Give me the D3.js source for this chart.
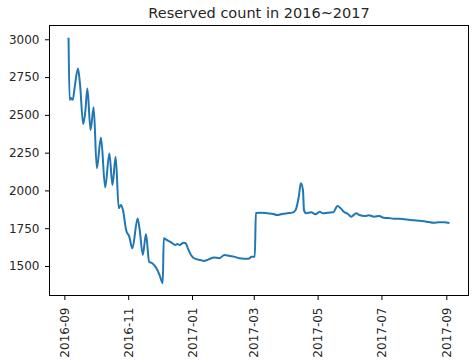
<!DOCTYPE html>
<html>
<head>
<meta charset="utf-8">
<script src="https://cdn.jsdelivr.net/npm/d3@7"></script>
<style>
  body { margin: 0; background: #fff; }
  svg { display: block; font-family: "DejaVu Sans", sans-serif; }
</style>
</head>
<body>
<div id="chart"></div>
<script>
  var title = 'Reserved count in 2016~2017';

  var dates = [
    '2016-09-05', '2016-09-06', '2016-09-07', '2016-09-09', '2016-09-11', '2016-09-14',
    '2016-09-16', '2016-09-19', '2016-09-21', '2016-09-23', '2016-09-26', '2016-09-29',
    '2016-10-02', '2016-10-06', '2016-10-10', '2016-10-14', '2016-10-17', '2016-10-20',
    '2016-10-23', '2016-10-25', '2016-10-27', '2016-10-30',
    '2016-11-02', '2016-11-05', '2016-11-10', '2016-11-12', '2016-11-15', '2016-11-18',
    '2016-11-21', '2016-11-24', '2016-11-28',
    '2016-12-01', '2016-12-04', '2016-12-05', '2016-12-08', '2016-12-11', '2016-12-16',
    '2016-12-18', '2016-12-20', '2016-12-24', '2016-12-26', '2016-12-28', '2016-12-31',
    '2017-01-03', '2017-01-06', '2017-01-09', '2017-01-12', '2017-01-17', '2017-01-22', '2017-01-27',
    '2017-02-01', '2017-02-06', '2017-02-10', '2017-02-15', '2017-02-20', '2017-02-24', '2017-02-27',
    '2017-03-02', '2017-03-03', '2017-03-07', '2017-03-14', '2017-03-20', '2017-03-23', '2017-03-28',
    '2017-04-02', '2017-04-07', '2017-04-10', '2017-04-13', '2017-04-15', '2017-04-17',
    '2017-04-18', '2017-04-20', '2017-04-25', '2017-04-29',
    '2017-05-03', '2017-05-06', '2017-05-11', '2017-05-16', '2017-05-20', '2017-05-23',
    '2017-05-26', '2017-05-30',
    '2017-06-02', '2017-06-07', '2017-06-10', '2017-06-15', '2017-06-19', '2017-06-24', '2017-06-29',
    '2017-07-03', '2017-07-08', '2017-07-13', '2017-07-18', '2017-07-23', '2017-07-27',
    '2017-08-01', '2017-08-06', '2017-08-11', '2017-08-15', '2017-08-20', '2017-08-25', '2017-08-30',
    '2017-09-04'
  ];

  var counts = [
    3010, 2598, 2612, 2600, 2690, 2807,
    2700, 2439, 2520, 2675, 2400, 2550,
    2146, 2350, 2020, 2245, 2036, 2223,
    1882, 1903, 1870, 1738,
    1694, 1617, 1815, 1738, 1573, 1712,
    1528, 1518, 1485,
    1440, 1386, 1683, 1672, 1661, 1639,
    1646, 1639, 1654, 1650, 1617, 1573,
    1551, 1544, 1540, 1533, 1544, 1557, 1551,
    1573, 1566, 1562, 1551, 1548, 1548, 1562,
    1562, 1850, 1853, 1849, 1844, 1837, 1844,
    1849, 1853, 1870, 1958, 2047, 2003,
    1870, 1849, 1855, 1842,
    1859, 1849, 1853, 1855, 1897, 1882,
    1859, 1844,
    1826, 1849, 1837, 1831, 1835, 1826, 1831,
    1819, 1817, 1813, 1813, 1809, 1806,
    1802, 1800, 1796, 1791, 1786, 1789, 1789,
    1784
  ];

  var xTickLabels = ['2016-09', '2016-11', '2017-01', '2017-03', '2017-05', '2017-07', '2017-09'];
  var yTickValues = [1500, 1750, 2000, 2250, 2500, 2750, 3000];

  var width = 474, height = 364;
  var margin = {top: 25.5, right: 5.5, bottom: 68.5, left: 49.5};
  var innerW = width - margin.left - margin.right,
    innerH = height - margin.top - margin.bottom;

  var parseDay = d3.timeParse('%Y-%m-%d'),
    parseMonth = d3.timeParse('%Y-%m');

  var data = dates.map(function(d, i) {
    return {date: parseDay(d), value: counts[i]};
  });

  // matplotlib style 5% padding on both axes
  function pad(ext) {
    var p = (ext[1] - ext[0]) * 0.05;
    return [ext[0] - p, ext[1] + p];
  }
  var xExt = pad(d3.extent(data, function(d) { return +d.date; }));
  var yExt = pad(d3.extent(data, function(d) { return d.value; }));

  var x = d3.scaleTime()
    .domain([new Date(xExt[0]), new Date(xExt[1])])
    .range([0, innerW]);
  var y = d3.scaleLinear()
    .domain(yExt)
    .range([innerH, 0]);

  var svg = d3.select('#chart')
    .append('svg')
    .attr('width', width)
    .attr('height', height);

  svg.append('text')
    .attr('x', margin.left + innerW / 2)
    .attr('y', 17.5)
    .attr('text-anchor', 'middle')
    .style('font-size', '14.5px')
    .attr('fill', '#262626')
    .text(title);

  var g = svg.append('g')
    .attr('transform', 'translate(' + margin.left + ',' + margin.top + ')');

  var line = d3.line()
    .curve(d3.curveMonotoneX)
    .x(function(d) { return x(d.date); })
    .y(function(d) { return y(d.value); });

  g.append('path')
    .datum(data)
    .attr('fill', 'none')
    .attr('stroke', '#1f77b4')
    .attr('stroke-width', 2)
    .attr('stroke-linejoin', 'round')
    .attr('d', line);

  //axes
  var xAxis = g.append('g')
    .attr('transform', 'translate(0,' + innerH + ')')
    .call(d3.axisBottom(x)
      .tickValues(xTickLabels.map(parseMonth))
      .tickFormat(d3.timeFormat('%Y-%m'))
      .tickSize(4.5)
      .tickPadding(0));
  xAxis.selectAll('text')
    .attr('text-anchor', 'end')
    .attr('dy', '0.35em')
    .attr('transform', 'translate(0,12) rotate(-90)')
    .attr('x', 0)
    .attr('y', 0);

  var yAxis = g.append('g')
    .call(d3.axisLeft(y)
      .tickValues(yTickValues)
      .tickFormat(d3.format('d'))
      .tickSize(4.5)
      .tickPadding(5.5));

  [xAxis, yAxis].forEach(function(ax) {
    ax.select('.domain').remove();
    ax.selectAll('line').attr('stroke', '#000').attr('stroke-width', 1);
    ax.selectAll('text')
      .attr('fill', '#262626')
      .style('font-size', '12px')
      .style('font-family', '"DejaVu Sans", sans-serif');
  });

  g.append('rect')
    .attr('width', innerW)
    .attr('height', innerH)
    .attr('fill', 'none')
    .attr('stroke', '#000')
    .attr('stroke-width', 1);
</script>
</body>
</html>
